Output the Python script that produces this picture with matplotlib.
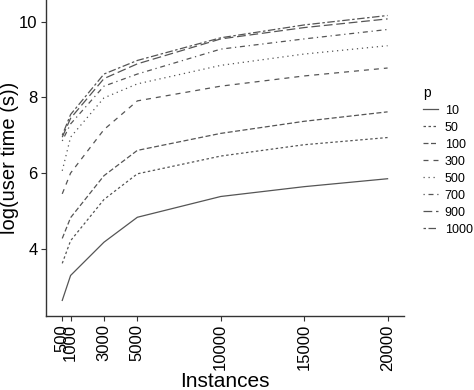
import matplotlib
matplotlib.use("Agg")
import matplotlib.pyplot as plt

plt.rcParams['font.family'] = ['Liberation Sans', 'DejaVu Sans']

instances = [500, 1000, 3000, 5000, 10000, 15000, 20000]
p_levels = ["10", "50", "100", "300", "500", "700", "900", "1000"]

# log(user time) per p
t_10 = [2.63, 3.29, 4.17, 4.83, 5.38, 5.64, 5.85]
t_50 = [3.61, 4.21, 5.30, 5.98, 6.45, 6.75, 6.94]
t_100 = [4.27, 4.82, 5.93, 6.60, 7.05, 7.37, 7.62]
t_300 = [5.45, 6.00, 7.15, 7.91, 8.30, 8.57, 8.78]
t_500 = [6.06, 6.95, 7.99, 8.36, 8.85, 9.15, 9.37]
t_700 = [6.85, 7.30, 8.30, 8.62, 9.28, 9.55, 9.80]
t_900 = [6.95, 7.45, 8.50, 8.89, 9.55, 9.85, 10.08]
t_1000 = [7.00, 7.55, 8.62, 8.98, 9.58, 9.92, 10.17]

series = [t_10, t_50, t_100, t_300, t_500, t_700, t_900, t_1000]

# ggplot2 linetype palette
styles = ['-', (0, (2, 2)), (0, (4, 2)), (0, (4, 4)), (0, (1, 3)),
          (0, (1, 3, 4, 3)), (0, (7, 3)), (0, (2, 2, 6, 2))]

fig = plt.figure(figsize=(4.74, 3.9), dpi=100)
ax = fig.add_axes([0.097, 0.19, 0.755, 0.81])

for lab, vals, ls in zip(p_levels, series, styles):
    ax.plot(instances, vals, linestyle=ls, color='#555555', linewidth=0.9, label=lab)

ax.set_xlim(-475, 20975)
ax.set_ylim(2.22, 10.58)
ax.set_xticks(instances)
ax.set_xticklabels([str(v) for v in instances], rotation=90)
ax.set_yticks([4, 6, 8, 10])
ax.tick_params(labelsize=12, color='#333333', length=3.5, pad=2.5, labelcolor='black')
ax.set_xlabel("Instances", fontsize=15, labelpad=1)
ax.set_ylabel("log(user time (s))", fontsize=14.5, labelpad=0)

for s in ['top', 'right']:
    ax.spines[s].set_visible(False)
for s in ['left', 'bottom']:
    ax.spines[s].set_color('#333333')
    ax.spines[s].set_linewidth(1.0)

leg = ax.legend(title="p", loc='upper left', bbox_to_anchor=(0.892, 0.78),
                bbox_transform=fig.transFigure, borderpad=0, borderaxespad=0,
                frameon=False, fontsize=9, title_fontsize=10,
                handlelength=1.2, handletextpad=0.55, labelspacing=0.4)
leg._legend_box.align = "left"

fig.savefig("out.png", dpi=100)
